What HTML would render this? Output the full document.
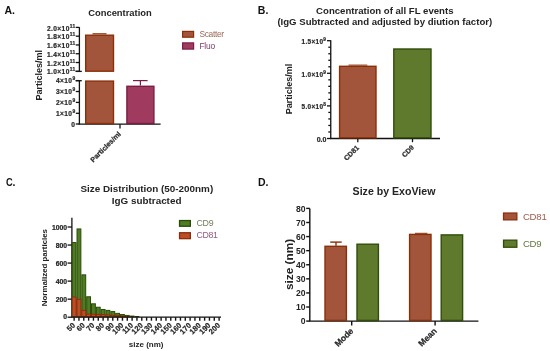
<!DOCTYPE html>
<html><head><meta charset="utf-8"><style>
html,body{margin:0;padding:0;background:#fff;}
body{width:550px;height:351px;overflow:hidden;}
svg{display:block;font-family:"Liberation Sans",sans-serif;filter:blur(0.3px);}
</style></head><body>
<svg width="550" height="351" viewBox="0 0 550 351">
<rect width="550" height="351" fill="#fff"/>
<text x="4.5" y="13.6" font-size="10.5" font-weight="bold" text-anchor="start" fill="#111" >A.</text>
<text x="120" y="16" font-size="9.4" font-weight="bold" text-anchor="middle" fill="#242424" >Concentration</text>
<text transform="translate(41.6,75.3) rotate(-90)" font-size="9" font-weight="bold" text-anchor="middle" fill="#222">Particles/ml</text>
<line x1="79.40" y1="27.20" x2="79.40" y2="71.90" stroke="#111" stroke-width="1.3"/>
<line x1="75.80" y1="27.40" x2="79.40" y2="27.40" stroke="#111" stroke-width="1.3"/>
<text x="75.4" y="30.5" font-size="6.6" font-weight="bold" text-anchor="end" fill="#2a2a2a" stroke="#2a2a2a" stroke-width="0.22" letter-spacing="0.4">2.0×10<tspan font-size="4.95" dy="-2.97" letter-spacing="0.2">11</tspan></text>
<line x1="75.80" y1="36.18" x2="79.40" y2="36.18" stroke="#111" stroke-width="1.3"/>
<text x="75.4" y="39.28" font-size="6.6" font-weight="bold" text-anchor="end" fill="#2a2a2a" stroke="#2a2a2a" stroke-width="0.22" letter-spacing="0.4">1.8×10<tspan font-size="4.95" dy="-2.97" letter-spacing="0.2">11</tspan></text>
<line x1="75.80" y1="44.96" x2="79.40" y2="44.96" stroke="#111" stroke-width="1.3"/>
<text x="75.4" y="48.059999999999995" font-size="6.6" font-weight="bold" text-anchor="end" fill="#2a2a2a" stroke="#2a2a2a" stroke-width="0.22" letter-spacing="0.4">1.6×10<tspan font-size="4.95" dy="-2.97" letter-spacing="0.2">11</tspan></text>
<line x1="75.80" y1="53.74" x2="79.40" y2="53.74" stroke="#111" stroke-width="1.3"/>
<text x="75.4" y="56.839999999999996" font-size="6.6" font-weight="bold" text-anchor="end" fill="#2a2a2a" stroke="#2a2a2a" stroke-width="0.22" letter-spacing="0.4">1.4×10<tspan font-size="4.95" dy="-2.97" letter-spacing="0.2">11</tspan></text>
<line x1="75.80" y1="62.52" x2="79.40" y2="62.52" stroke="#111" stroke-width="1.3"/>
<text x="75.4" y="65.61999999999999" font-size="6.6" font-weight="bold" text-anchor="end" fill="#2a2a2a" stroke="#2a2a2a" stroke-width="0.22" letter-spacing="0.4">1.2×10<tspan font-size="4.95" dy="-2.97" letter-spacing="0.2">11</tspan></text>
<line x1="75.80" y1="71.30" x2="79.40" y2="71.30" stroke="#111" stroke-width="1.3"/>
<text x="75.4" y="74.39999999999999" font-size="6.6" font-weight="bold" text-anchor="end" fill="#2a2a2a" stroke="#2a2a2a" stroke-width="0.22" letter-spacing="0.4">1.0×10<tspan font-size="4.95" dy="-2.97" letter-spacing="0.2">11</tspan></text>
<line x1="75.60" y1="71.40" x2="81.80" y2="71.40" stroke="#111" stroke-width="1.3"/>
<line x1="79.40" y1="80.40" x2="79.40" y2="124.20" stroke="#111" stroke-width="1.3"/>
<line x1="75.60" y1="80.70" x2="81.80" y2="80.70" stroke="#111" stroke-width="1.3"/>
<line x1="75.80" y1="80.60" x2="79.40" y2="80.60" stroke="#111" stroke-width="1.3"/>
<text x="75.4" y="82.89999999999999" font-size="6.6" font-weight="bold" text-anchor="end" fill="#2a2a2a" stroke="#2a2a2a" stroke-width="0.22" letter-spacing="0.4">4×10<tspan font-size="4.95" dy="-2.97" letter-spacing="0.2">9</tspan></text>
<line x1="75.80" y1="91.50" x2="79.40" y2="91.50" stroke="#111" stroke-width="1.3"/>
<text x="75.4" y="93.8" font-size="6.6" font-weight="bold" text-anchor="end" fill="#2a2a2a" stroke="#2a2a2a" stroke-width="0.22" letter-spacing="0.4">3×10<tspan font-size="4.95" dy="-2.97" letter-spacing="0.2">9</tspan></text>
<line x1="75.80" y1="102.40" x2="79.40" y2="102.40" stroke="#111" stroke-width="1.3"/>
<text x="75.4" y="104.69999999999999" font-size="6.6" font-weight="bold" text-anchor="end" fill="#2a2a2a" stroke="#2a2a2a" stroke-width="0.22" letter-spacing="0.4">2×10<tspan font-size="4.95" dy="-2.97" letter-spacing="0.2">9</tspan></text>
<line x1="75.80" y1="113.30" x2="79.40" y2="113.30" stroke="#111" stroke-width="1.3"/>
<text x="75.4" y="115.6" font-size="6.6" font-weight="bold" text-anchor="end" fill="#2a2a2a" stroke="#2a2a2a" stroke-width="0.22" letter-spacing="0.4">1×10<tspan font-size="4.95" dy="-2.97" letter-spacing="0.2">9</tspan></text>
<line x1="75.80" y1="124.00" x2="79.40" y2="124.00" stroke="#111" stroke-width="1.3"/>
<text x="75" y="126.8" font-size="6.6" font-weight="bold" text-anchor="end" fill="#242424"  stroke="#242424" stroke-width="0.22">0</text>
<line x1="78.60" y1="124.20" x2="160.60" y2="124.20" stroke="#111" stroke-width="1.3"/>
<line x1="120.00" y1="124.20" x2="120.00" y2="128.60" stroke="#111" stroke-width="1.3"/>
<text transform="translate(121.4,134.5) rotate(-45)" font-size="7.1" font-weight="bold" text-anchor="end" fill="#2a2a2a" stroke="#2a2a2a" stroke-width="0.22">Particles/ml</text>
<rect x="85.70" y="35.20" width="27.80" height="36.00" fill="#a3553b" stroke="#8a2f08" stroke-width="1.4"/>
<rect x="85.70" y="81.10" width="27.80" height="42.40" fill="#a3553b" stroke="#8a2f08" stroke-width="1.4"/>
<line x1="92.50" y1="33.80" x2="106.50" y2="33.80" stroke="#8a2f08" stroke-width="1.2"/>
<rect x="126.90" y="86.30" width="27.00" height="37.20" fill="#a03a5f" stroke="#7a1d44" stroke-width="1.4"/>
<line x1="140.40" y1="80.60" x2="140.40" y2="85.60" stroke="#7a1d44" stroke-width="1.2"/>
<line x1="133.00" y1="80.60" x2="147.60" y2="80.60" stroke="#7a1d44" stroke-width="1.2"/>
<rect x="182.60" y="31.40" width="11.00" height="5.80" fill="#a3553b" stroke="#8a2f08" stroke-width="1.2"/>
<rect x="182.60" y="42.90" width="11.00" height="6.20" fill="#a03a5f" stroke="#7a1d44" stroke-width="1.2"/>
<text x="199.4" y="36.8" font-size="8.4" font-weight="normal" text-anchor="start" fill="#9c6656" letter-spacing="-0.3">Scatter</text>
<text x="199.4" y="48.6" font-size="8.4" font-weight="normal" text-anchor="start" fill="#7e3a68" letter-spacing="-0.2">Fluo</text>
<text x="257.8" y="13.8" font-size="10.5" font-weight="bold" text-anchor="start" fill="#111" >B.</text>
<text x="384.8" y="14.2" font-size="9.6" font-weight="bold" text-anchor="middle" fill="#242424" >Concentration of all FL events</text>
<text x="384.8" y="25.3" font-size="9.6" font-weight="bold" text-anchor="middle" fill="#242424" >(IgG Subtracted and adjusted by diution factor)</text>
<text transform="translate(292.2,89) rotate(-90)" font-size="9" font-weight="bold" text-anchor="middle" fill="#222">Particles/ml</text>
<line x1="330.75" y1="40.30" x2="330.75" y2="138.60" stroke="#111" stroke-width="1.3"/>
<line x1="327.00" y1="138.50" x2="330.75" y2="138.50" stroke="#111" stroke-width="1.3"/>
<line x1="328.30" y1="131.98" x2="330.75" y2="131.98" stroke="#111" stroke-width="1.3"/>
<line x1="328.30" y1="125.46" x2="330.75" y2="125.46" stroke="#111" stroke-width="1.3"/>
<line x1="328.30" y1="118.94" x2="330.75" y2="118.94" stroke="#111" stroke-width="1.3"/>
<line x1="328.30" y1="112.42" x2="330.75" y2="112.42" stroke="#111" stroke-width="1.3"/>
<line x1="327.00" y1="105.90" x2="330.75" y2="105.90" stroke="#111" stroke-width="1.3"/>
<line x1="328.30" y1="99.38" x2="330.75" y2="99.38" stroke="#111" stroke-width="1.3"/>
<line x1="328.30" y1="92.86" x2="330.75" y2="92.86" stroke="#111" stroke-width="1.3"/>
<line x1="328.30" y1="86.34" x2="330.75" y2="86.34" stroke="#111" stroke-width="1.3"/>
<line x1="328.30" y1="79.82" x2="330.75" y2="79.82" stroke="#111" stroke-width="1.3"/>
<line x1="327.00" y1="73.30" x2="330.75" y2="73.30" stroke="#111" stroke-width="1.3"/>
<line x1="328.30" y1="66.78" x2="330.75" y2="66.78" stroke="#111" stroke-width="1.3"/>
<line x1="328.30" y1="60.26" x2="330.75" y2="60.26" stroke="#111" stroke-width="1.3"/>
<line x1="328.30" y1="53.74" x2="330.75" y2="53.74" stroke="#111" stroke-width="1.3"/>
<line x1="328.30" y1="47.22" x2="330.75" y2="47.22" stroke="#111" stroke-width="1.3"/>
<line x1="327.00" y1="40.70" x2="330.75" y2="40.70" stroke="#111" stroke-width="1.3"/>
<text x="326.2" y="43.9" font-size="6.4" font-weight="bold" text-anchor="end" fill="#2a2a2a" stroke="#2a2a2a" stroke-width="0.22" letter-spacing="0.35">1.5×10<tspan font-size="4.80" dy="-2.88" letter-spacing="0.2">9</tspan></text>
<text x="326.2" y="76.6" font-size="6.4" font-weight="bold" text-anchor="end" fill="#2a2a2a" stroke="#2a2a2a" stroke-width="0.22" letter-spacing="0.35">1.0×10<tspan font-size="4.80" dy="-2.88" letter-spacing="0.2">9</tspan></text>
<text x="326.2" y="109.2" font-size="6.4" font-weight="bold" text-anchor="end" fill="#2a2a2a" stroke="#2a2a2a" stroke-width="0.22" letter-spacing="0.35">5.0×10<tspan font-size="4.80" dy="-2.88" letter-spacing="0.2">8</tspan></text>
<text x="326.2" y="141.6" font-size="7.0" font-weight="bold" text-anchor="end" fill="#242424" letter-spacing="-0.1" stroke="#242424" stroke-width="0.22">0.0</text>
<line x1="330.00" y1="138.50" x2="440.00" y2="138.50" stroke="#111" stroke-width="1.3"/>
<line x1="357.80" y1="138.50" x2="357.80" y2="142.20" stroke="#111" stroke-width="1.3"/>
<line x1="412.50" y1="138.50" x2="412.50" y2="142.20" stroke="#111" stroke-width="1.3"/>
<rect x="339.60" y="66.30" width="36.40" height="71.50" fill="#a3553b" stroke="#8a2f08" stroke-width="1.4"/>
<line x1="348.50" y1="65.10" x2="367.30" y2="65.10" stroke="#8a2f08" stroke-width="1.0"/>
<rect x="393.80" y="49.00" width="37.20" height="88.80" fill="#5f7a2c" stroke="#304e0a" stroke-width="1.4"/>
<text transform="translate(359.4,148.3) rotate(-45)" font-size="7.0" font-weight="bold" text-anchor="end" fill="#2a2a2a" stroke="#2a2a2a" stroke-width="0.22">CD81</text>
<text transform="translate(414.6,147.9) rotate(-45)" font-size="7.0" font-weight="bold" text-anchor="end" fill="#2a2a2a" stroke="#2a2a2a" stroke-width="0.22">CD9</text>
<text transform="translate(6.0,186) scale(0.88,1)" font-size="10.5" font-weight="bold" fill="#111">C</text>
<text x="12.6" y="186" font-size="10.5" font-weight="bold" text-anchor="start" fill="#111" >.</text>
<text x="146.8" y="192.4" font-size="9.9" font-weight="bold" text-anchor="middle" fill="#242424" >Size Distribution (50-200nm)</text>
<text x="146.6" y="203.6" font-size="9.9" font-weight="bold" text-anchor="middle" fill="#242424" >IgG subtracted</text>
<text transform="translate(46.9,267.6) rotate(-90)" font-size="7.9" font-weight="bold" text-anchor="middle" fill="#222">Normalized particles</text>
<line x1="71.90" y1="217.80" x2="71.90" y2="317.20" stroke="#111" stroke-width="1.3"/>
<line x1="67.60" y1="317.20" x2="71.90" y2="317.20" stroke="#111" stroke-width="1.3"/>
<text x="67" y="319.09999999999997" font-size="6.8" font-weight="bold" text-anchor="end" fill="#242424"  stroke="#242424" stroke-width="0.22">0</text>
<line x1="67.60" y1="299.16" x2="71.90" y2="299.16" stroke="#111" stroke-width="1.3"/>
<text x="67" y="301.65999999999997" font-size="6.8" font-weight="bold" text-anchor="end" fill="#242424"  stroke="#242424" stroke-width="0.22">200</text>
<line x1="67.60" y1="281.12" x2="71.90" y2="281.12" stroke="#111" stroke-width="1.3"/>
<text x="67" y="283.62" font-size="6.8" font-weight="bold" text-anchor="end" fill="#242424"  stroke="#242424" stroke-width="0.22">400</text>
<line x1="67.60" y1="263.08" x2="71.90" y2="263.08" stroke="#111" stroke-width="1.3"/>
<text x="67" y="265.58" font-size="6.8" font-weight="bold" text-anchor="end" fill="#242424"  stroke="#242424" stroke-width="0.22">600</text>
<line x1="67.60" y1="245.04" x2="71.90" y2="245.04" stroke="#111" stroke-width="1.3"/>
<text x="67" y="247.54" font-size="6.8" font-weight="bold" text-anchor="end" fill="#242424"  stroke="#242424" stroke-width="0.22">800</text>
<line x1="67.60" y1="227.00" x2="71.90" y2="227.00" stroke="#111" stroke-width="1.3"/>
<text x="67" y="229.5" font-size="6.8" font-weight="bold" text-anchor="end" fill="#242424"  stroke="#242424" stroke-width="0.22">1000</text>
<rect x="72.20" y="242.56" width="3.83" height="74.14" fill="#4e7c20" stroke="#2a4a08" stroke-width="1.0"/>
<rect x="77.03" y="228.94" width="3.83" height="87.76" fill="#4e7c20" stroke="#2a4a08" stroke-width="1.0"/>
<rect x="81.87" y="274.86" width="3.83" height="41.84" fill="#4e7c20" stroke="#2a4a08" stroke-width="1.0"/>
<rect x="86.70" y="296.77" width="3.83" height="19.93" fill="#4e7c20" stroke="#2a4a08" stroke-width="1.0"/>
<rect x="91.53" y="303.81" width="3.83" height="12.89" fill="#4e7c20" stroke="#2a4a08" stroke-width="1.0"/>
<rect x="96.37" y="307.24" width="3.83" height="9.46" fill="#4e7c20" stroke="#2a4a08" stroke-width="1.0"/>
<rect x="101.20" y="309.49" width="3.83" height="7.21" fill="#4e7c20" stroke="#2a4a08" stroke-width="1.0"/>
<rect x="106.03" y="310.39" width="3.83" height="6.31" fill="#4e7c20" stroke="#2a4a08" stroke-width="1.0"/>
<rect x="110.86" y="311.57" width="3.83" height="5.13" fill="#4e7c20" stroke="#2a4a08" stroke-width="1.0"/>
<rect x="115.70" y="313.37" width="3.83" height="3.33" fill="#4e7c20" stroke="#2a4a08" stroke-width="1.0"/>
<rect x="120.53" y="314.54" width="3.83" height="2.16" fill="#4e7c20" stroke="#2a4a08" stroke-width="1.0"/>
<rect x="125.36" y="315.44" width="3.83" height="1.25" fill="#4e7c20" stroke="#2a4a08" stroke-width="1.0"/>
<rect x="130.20" y="316.08" width="3.83" height="0.62" fill="#4e7c20" stroke="#2a4a08" stroke-width="1.0"/>
<rect x="135.03" y="316.53" width="3.83" height="0.17" fill="#4e7c20" stroke="#2a4a08" stroke-width="1.0"/>
<rect x="139.86" y="316.89" width="3.83" height="-0.19" fill="#4e7c20" stroke="#2a4a08" stroke-width="1.0"/>
<rect x="144.69" y="317.16" width="3.83" height="-0.46" fill="#4e7c20" stroke="#2a4a08" stroke-width="1.0"/>
<rect x="149.53" y="317.34" width="3.83" height="-0.64" fill="#4e7c20" stroke="#2a4a08" stroke-width="1.0"/>
<rect x="154.36" y="317.43" width="3.83" height="-0.73" fill="#4e7c20" stroke="#2a4a08" stroke-width="1.0"/>
<rect x="159.19" y="317.52" width="3.83" height="-0.82" fill="#4e7c20" stroke="#2a4a08" stroke-width="1.0"/>
<rect x="164.03" y="317.52" width="3.83" height="-0.82" fill="#4e7c20" stroke="#2a4a08" stroke-width="1.0"/>
<rect x="168.86" y="317.61" width="3.83" height="-0.91" fill="#4e7c20" stroke="#2a4a08" stroke-width="1.0"/>
<rect x="173.69" y="317.61" width="3.83" height="-0.91" fill="#4e7c20" stroke="#2a4a08" stroke-width="1.0"/>
<rect x="178.53" y="317.61" width="3.83" height="-0.91" fill="#4e7c20" stroke="#2a4a08" stroke-width="1.0"/>
<rect x="183.36" y="317.61" width="3.83" height="-0.91" fill="#4e7c20" stroke="#2a4a08" stroke-width="1.0"/>
<rect x="188.19" y="317.61" width="3.83" height="-0.91" fill="#4e7c20" stroke="#2a4a08" stroke-width="1.0"/>
<rect x="193.03" y="317.61" width="3.83" height="-0.91" fill="#4e7c20" stroke="#2a4a08" stroke-width="1.0"/>
<rect x="197.86" y="317.61" width="3.83" height="-0.91" fill="#4e7c20" stroke="#2a4a08" stroke-width="1.0"/>
<rect x="202.69" y="317.61" width="3.83" height="-0.91" fill="#4e7c20" stroke="#2a4a08" stroke-width="1.0"/>
<rect x="207.52" y="317.61" width="3.83" height="-0.91" fill="#4e7c20" stroke="#2a4a08" stroke-width="1.0"/>
<rect x="212.36" y="317.61" width="3.83" height="-0.91" fill="#4e7c20" stroke="#2a4a08" stroke-width="1.0"/>
<rect x="217.19" y="317.61" width="3.83" height="-0.91" fill="#4e7c20" stroke="#2a4a08" stroke-width="1.0"/>
<rect x="72.15" y="296.99" width="3.93" height="19.76" fill="#bb4e25" stroke="#8c2c0a" stroke-width="0.9"/>
<rect x="76.98" y="299.25" width="3.93" height="17.50" fill="#bb4e25" stroke="#8c2c0a" stroke-width="0.9"/>
<rect x="81.82" y="310.34" width="3.93" height="6.41" fill="#bb4e25" stroke="#8c2c0a" stroke-width="0.9"/>
<rect x="86.65" y="314.04" width="3.93" height="2.71" fill="#bb4e25" stroke="#8c2c0a" stroke-width="0.9"/>
<rect x="91.48" y="314.22" width="3.93" height="2.53" fill="#bb4e25" stroke="#8c2c0a" stroke-width="0.9"/>
<rect x="96.32" y="314.40" width="3.93" height="2.35" fill="#bb4e25" stroke="#8c2c0a" stroke-width="0.9"/>
<rect x="101.15" y="314.58" width="3.93" height="2.17" fill="#bb4e25" stroke="#8c2c0a" stroke-width="0.9"/>
<rect x="105.98" y="314.94" width="3.93" height="1.81" fill="#bb4e25" stroke="#8c2c0a" stroke-width="0.9"/>
<rect x="110.81" y="315.30" width="3.93" height="1.45" fill="#bb4e25" stroke="#8c2c0a" stroke-width="0.9"/>
<rect x="115.65" y="315.67" width="3.93" height="1.08" fill="#bb4e25" stroke="#8c2c0a" stroke-width="0.9"/>
<rect x="120.48" y="316.03" width="3.93" height="0.72" fill="#bb4e25" stroke="#8c2c0a" stroke-width="0.9"/>
<rect x="125.31" y="316.39" width="3.93" height="0.36" fill="#bb4e25" stroke="#8c2c0a" stroke-width="0.9"/>
<rect x="130.15" y="316.75" width="3.93" height="0.00" fill="#bb4e25" stroke="#8c2c0a" stroke-width="0.9"/>
<rect x="134.98" y="316.93" width="3.93" height="-0.18" fill="#bb4e25" stroke="#8c2c0a" stroke-width="0.9"/>
<rect x="139.81" y="317.20" width="3.93" height="-0.45" fill="#bb4e25" stroke="#8c2c0a" stroke-width="0.9"/>
<rect x="144.64" y="317.38" width="3.93" height="-0.63" fill="#bb4e25" stroke="#8c2c0a" stroke-width="0.9"/>
<rect x="149.48" y="317.47" width="3.93" height="-0.72" fill="#bb4e25" stroke="#8c2c0a" stroke-width="0.9"/>
<rect x="154.31" y="317.56" width="3.93" height="-0.81" fill="#bb4e25" stroke="#8c2c0a" stroke-width="0.9"/>
<rect x="159.14" y="317.56" width="3.93" height="-0.81" fill="#bb4e25" stroke="#8c2c0a" stroke-width="0.9"/>
<rect x="163.98" y="317.56" width="3.93" height="-0.81" fill="#bb4e25" stroke="#8c2c0a" stroke-width="0.9"/>
<rect x="168.81" y="317.56" width="3.93" height="-0.81" fill="#bb4e25" stroke="#8c2c0a" stroke-width="0.9"/>
<rect x="173.64" y="317.56" width="3.93" height="-0.81" fill="#bb4e25" stroke="#8c2c0a" stroke-width="0.9"/>
<line x1="71.30" y1="317.20" x2="221.00" y2="317.20" stroke="#111" stroke-width="1.3"/>
<line x1="74.12" y1="317.20" x2="74.12" y2="320.70" stroke="#111" stroke-width="1.4"/>
<text transform="translate(75.72,325.80) rotate(-45)" font-size="7.5" font-weight="bold" text-anchor="end" fill="#2a2a2a" stroke="#2a2a2a" stroke-width="0.22">50</text>
<line x1="78.95" y1="317.20" x2="78.95" y2="320.70" stroke="#111" stroke-width="1.4"/>
<line x1="83.78" y1="317.20" x2="83.78" y2="320.70" stroke="#111" stroke-width="1.4"/>
<text transform="translate(85.38,325.80) rotate(-45)" font-size="7.5" font-weight="bold" text-anchor="end" fill="#2a2a2a" stroke="#2a2a2a" stroke-width="0.22">60</text>
<line x1="88.62" y1="317.20" x2="88.62" y2="320.70" stroke="#111" stroke-width="1.4"/>
<line x1="93.45" y1="317.20" x2="93.45" y2="320.70" stroke="#111" stroke-width="1.4"/>
<text transform="translate(95.05,325.80) rotate(-45)" font-size="7.5" font-weight="bold" text-anchor="end" fill="#2a2a2a" stroke="#2a2a2a" stroke-width="0.22">70</text>
<line x1="98.28" y1="317.20" x2="98.28" y2="320.70" stroke="#111" stroke-width="1.4"/>
<line x1="103.11" y1="317.20" x2="103.11" y2="320.70" stroke="#111" stroke-width="1.4"/>
<text transform="translate(104.71,325.80) rotate(-45)" font-size="7.5" font-weight="bold" text-anchor="end" fill="#2a2a2a" stroke="#2a2a2a" stroke-width="0.22">80</text>
<line x1="107.95" y1="317.20" x2="107.95" y2="320.70" stroke="#111" stroke-width="1.4"/>
<line x1="112.78" y1="317.20" x2="112.78" y2="320.70" stroke="#111" stroke-width="1.4"/>
<text transform="translate(114.38,325.80) rotate(-45)" font-size="7.5" font-weight="bold" text-anchor="end" fill="#2a2a2a" stroke="#2a2a2a" stroke-width="0.22">90</text>
<line x1="117.61" y1="317.20" x2="117.61" y2="320.70" stroke="#111" stroke-width="1.4"/>
<line x1="122.45" y1="317.20" x2="122.45" y2="320.70" stroke="#111" stroke-width="1.4"/>
<text transform="translate(124.05,325.80) rotate(-45)" font-size="7.5" font-weight="bold" text-anchor="end" fill="#2a2a2a" stroke="#2a2a2a" stroke-width="0.22">100</text>
<line x1="127.28" y1="317.20" x2="127.28" y2="320.70" stroke="#111" stroke-width="1.4"/>
<line x1="132.11" y1="317.20" x2="132.11" y2="320.70" stroke="#111" stroke-width="1.4"/>
<text transform="translate(133.71,325.80) rotate(-45)" font-size="7.5" font-weight="bold" text-anchor="end" fill="#2a2a2a" stroke="#2a2a2a" stroke-width="0.22">110</text>
<line x1="136.95" y1="317.20" x2="136.95" y2="320.70" stroke="#111" stroke-width="1.4"/>
<line x1="141.78" y1="317.20" x2="141.78" y2="320.70" stroke="#111" stroke-width="1.4"/>
<text transform="translate(143.38,325.80) rotate(-45)" font-size="7.5" font-weight="bold" text-anchor="end" fill="#2a2a2a" stroke="#2a2a2a" stroke-width="0.22">120</text>
<line x1="146.61" y1="317.20" x2="146.61" y2="320.70" stroke="#111" stroke-width="1.4"/>
<line x1="151.44" y1="317.20" x2="151.44" y2="320.70" stroke="#111" stroke-width="1.4"/>
<text transform="translate(153.04,325.80) rotate(-45)" font-size="7.5" font-weight="bold" text-anchor="end" fill="#2a2a2a" stroke="#2a2a2a" stroke-width="0.22">130</text>
<line x1="156.28" y1="317.20" x2="156.28" y2="320.70" stroke="#111" stroke-width="1.4"/>
<line x1="161.11" y1="317.20" x2="161.11" y2="320.70" stroke="#111" stroke-width="1.4"/>
<text transform="translate(162.71,325.80) rotate(-45)" font-size="7.5" font-weight="bold" text-anchor="end" fill="#2a2a2a" stroke="#2a2a2a" stroke-width="0.22">140</text>
<line x1="165.94" y1="317.20" x2="165.94" y2="320.70" stroke="#111" stroke-width="1.4"/>
<line x1="170.78" y1="317.20" x2="170.78" y2="320.70" stroke="#111" stroke-width="1.4"/>
<text transform="translate(172.38,325.80) rotate(-45)" font-size="7.5" font-weight="bold" text-anchor="end" fill="#2a2a2a" stroke="#2a2a2a" stroke-width="0.22">150</text>
<line x1="175.61" y1="317.20" x2="175.61" y2="320.70" stroke="#111" stroke-width="1.4"/>
<line x1="180.44" y1="317.20" x2="180.44" y2="320.70" stroke="#111" stroke-width="1.4"/>
<text transform="translate(182.04,325.80) rotate(-45)" font-size="7.5" font-weight="bold" text-anchor="end" fill="#2a2a2a" stroke="#2a2a2a" stroke-width="0.22">160</text>
<line x1="185.28" y1="317.20" x2="185.28" y2="320.70" stroke="#111" stroke-width="1.4"/>
<line x1="190.11" y1="317.20" x2="190.11" y2="320.70" stroke="#111" stroke-width="1.4"/>
<text transform="translate(191.71,325.80) rotate(-45)" font-size="7.5" font-weight="bold" text-anchor="end" fill="#2a2a2a" stroke="#2a2a2a" stroke-width="0.22">170</text>
<line x1="194.94" y1="317.20" x2="194.94" y2="320.70" stroke="#111" stroke-width="1.4"/>
<line x1="199.77" y1="317.20" x2="199.77" y2="320.70" stroke="#111" stroke-width="1.4"/>
<text transform="translate(201.37,325.80) rotate(-45)" font-size="7.5" font-weight="bold" text-anchor="end" fill="#2a2a2a" stroke="#2a2a2a" stroke-width="0.22">180</text>
<line x1="204.61" y1="317.20" x2="204.61" y2="320.70" stroke="#111" stroke-width="1.4"/>
<line x1="209.44" y1="317.20" x2="209.44" y2="320.70" stroke="#111" stroke-width="1.4"/>
<text transform="translate(211.04,325.80) rotate(-45)" font-size="7.5" font-weight="bold" text-anchor="end" fill="#2a2a2a" stroke="#2a2a2a" stroke-width="0.22">190</text>
<line x1="214.27" y1="317.20" x2="214.27" y2="320.70" stroke="#111" stroke-width="1.4"/>
<line x1="219.11" y1="317.20" x2="219.11" y2="320.70" stroke="#111" stroke-width="1.4"/>
<text transform="translate(220.71,325.80) rotate(-45)" font-size="7.5" font-weight="bold" text-anchor="end" fill="#2a2a2a" stroke="#2a2a2a" stroke-width="0.22">200</text>
<text x="146.2" y="346.6" font-size="8" font-weight="bold" text-anchor="middle" fill="#242424" >size (nm)</text>
<rect x="179.55" y="220.55" width="10.80" height="5.70" fill="#4e7c20" stroke="#2a4a08" stroke-width="1.3"/>
<rect x="179.55" y="232.75" width="10.80" height="5.90" fill="#bb4e25" stroke="#8c2c0a" stroke-width="1.3"/>
<text x="196.5" y="226.4" font-size="8.8" font-weight="normal" text-anchor="start" fill="#72805a" letter-spacing="-0.25">CD9</text>
<text x="196.5" y="238.3" font-size="8.8" font-weight="normal" text-anchor="start" fill="#925a80" letter-spacing="-0.35">CD81</text>
<text x="257.9" y="186.1" font-size="10.5" font-weight="bold" text-anchor="start" fill="#111" >D.</text>
<text x="394" y="195.3" font-size="10.6" font-weight="bold" text-anchor="middle" fill="#242424" >Size by ExoView</text>
<text transform="translate(292.6,264.5) rotate(-90)" font-size="11.8" font-weight="bold" text-anchor="middle" fill="#222">size (nm)</text>
<line x1="309.80" y1="208.40" x2="309.80" y2="321.10" stroke="#111" stroke-width="1.4"/>
<line x1="306.20" y1="321.10" x2="309.80" y2="321.10" stroke="#111" stroke-width="1.4"/>
<text x="305.6" y="324.3" font-size="8.6" font-weight="bold" text-anchor="end" fill="#242424" >0</text>
<line x1="306.20" y1="307.01" x2="309.80" y2="307.01" stroke="#111" stroke-width="1.4"/>
<text x="305.6" y="310.21250000000003" font-size="8.6" font-weight="bold" text-anchor="end" fill="#242424" >10</text>
<line x1="306.20" y1="292.93" x2="309.80" y2="292.93" stroke="#111" stroke-width="1.4"/>
<text x="305.6" y="296.125" font-size="8.6" font-weight="bold" text-anchor="end" fill="#242424" >20</text>
<line x1="306.20" y1="278.84" x2="309.80" y2="278.84" stroke="#111" stroke-width="1.4"/>
<text x="305.6" y="282.0375" font-size="8.6" font-weight="bold" text-anchor="end" fill="#242424" >30</text>
<line x1="306.20" y1="264.75" x2="309.80" y2="264.75" stroke="#111" stroke-width="1.4"/>
<text x="305.6" y="267.95" font-size="8.6" font-weight="bold" text-anchor="end" fill="#242424" >40</text>
<line x1="306.20" y1="250.66" x2="309.80" y2="250.66" stroke="#111" stroke-width="1.4"/>
<text x="305.6" y="253.8625" font-size="8.6" font-weight="bold" text-anchor="end" fill="#242424" >50</text>
<line x1="306.20" y1="236.58" x2="309.80" y2="236.58" stroke="#111" stroke-width="1.4"/>
<text x="305.6" y="239.775" font-size="8.6" font-weight="bold" text-anchor="end" fill="#242424" >60</text>
<line x1="306.20" y1="222.49" x2="309.80" y2="222.49" stroke="#111" stroke-width="1.4"/>
<text x="305.6" y="225.6875" font-size="8.6" font-weight="bold" text-anchor="end" fill="#242424" >70</text>
<line x1="306.20" y1="208.40" x2="309.80" y2="208.40" stroke="#111" stroke-width="1.4"/>
<text x="305.6" y="211.6" font-size="8.6" font-weight="bold" text-anchor="end" fill="#242424" >80</text>
<line x1="309.10" y1="321.10" x2="478.40" y2="321.10" stroke="#111" stroke-width="1.4"/>
<line x1="351.70" y1="321.10" x2="351.70" y2="325.50" stroke="#111" stroke-width="1.4"/>
<line x1="435.10" y1="321.10" x2="435.10" y2="325.50" stroke="#111" stroke-width="1.4"/>
<rect x="325.00" y="246.30" width="21.40" height="74.10" fill="#a3553b" stroke="#8a2f08" stroke-width="1.4"/>
<line x1="336.00" y1="242.10" x2="336.00" y2="245.70" stroke="#8a2f08" stroke-width="1.4"/>
<line x1="330.20" y1="242.10" x2="341.70" y2="242.10" stroke="#8a2f08" stroke-width="1.4"/>
<rect x="357.00" y="244.20" width="21.40" height="76.20" fill="#5f7a2c" stroke="#304e0a" stroke-width="1.4"/>
<rect x="409.60" y="234.40" width="21.40" height="86.00" fill="#a3553b" stroke="#8a2f08" stroke-width="1.4"/>
<line x1="415.00" y1="233.30" x2="427.40" y2="233.30" stroke="#8a2f08" stroke-width="1.0"/>
<rect x="441.20" y="234.90" width="21.40" height="85.50" fill="#5f7a2c" stroke="#304e0a" stroke-width="1.4"/>
<text transform="translate(354,331.5) rotate(-45)" font-size="8.6" font-weight="bold" text-anchor="end" fill="#2a2a2a" stroke="#2a2a2a" stroke-width="0.22">Mode</text>
<text transform="translate(437.4,331.5) rotate(-45)" font-size="8.6" font-weight="bold" text-anchor="end" fill="#2a2a2a" stroke="#2a2a2a" stroke-width="0.22">Mean</text>
<rect x="503.55" y="213.05" width="13.30" height="6.80" fill="#a3553b" stroke="#8a2f08" stroke-width="1.3"/>
<rect x="503.55" y="240.15" width="13.30" height="7.10" fill="#5f7a2c" stroke="#304e0a" stroke-width="1.3"/>
<text x="522.9" y="219.8" font-size="9.6" font-weight="normal" text-anchor="start" fill="#a05a48" letter-spacing="-0.2">CD81</text>
<text x="522.9" y="246.8" font-size="9.6" font-weight="normal" text-anchor="start" fill="#63783f" letter-spacing="-0.2">CD9</text>
</svg>
</body></html>
